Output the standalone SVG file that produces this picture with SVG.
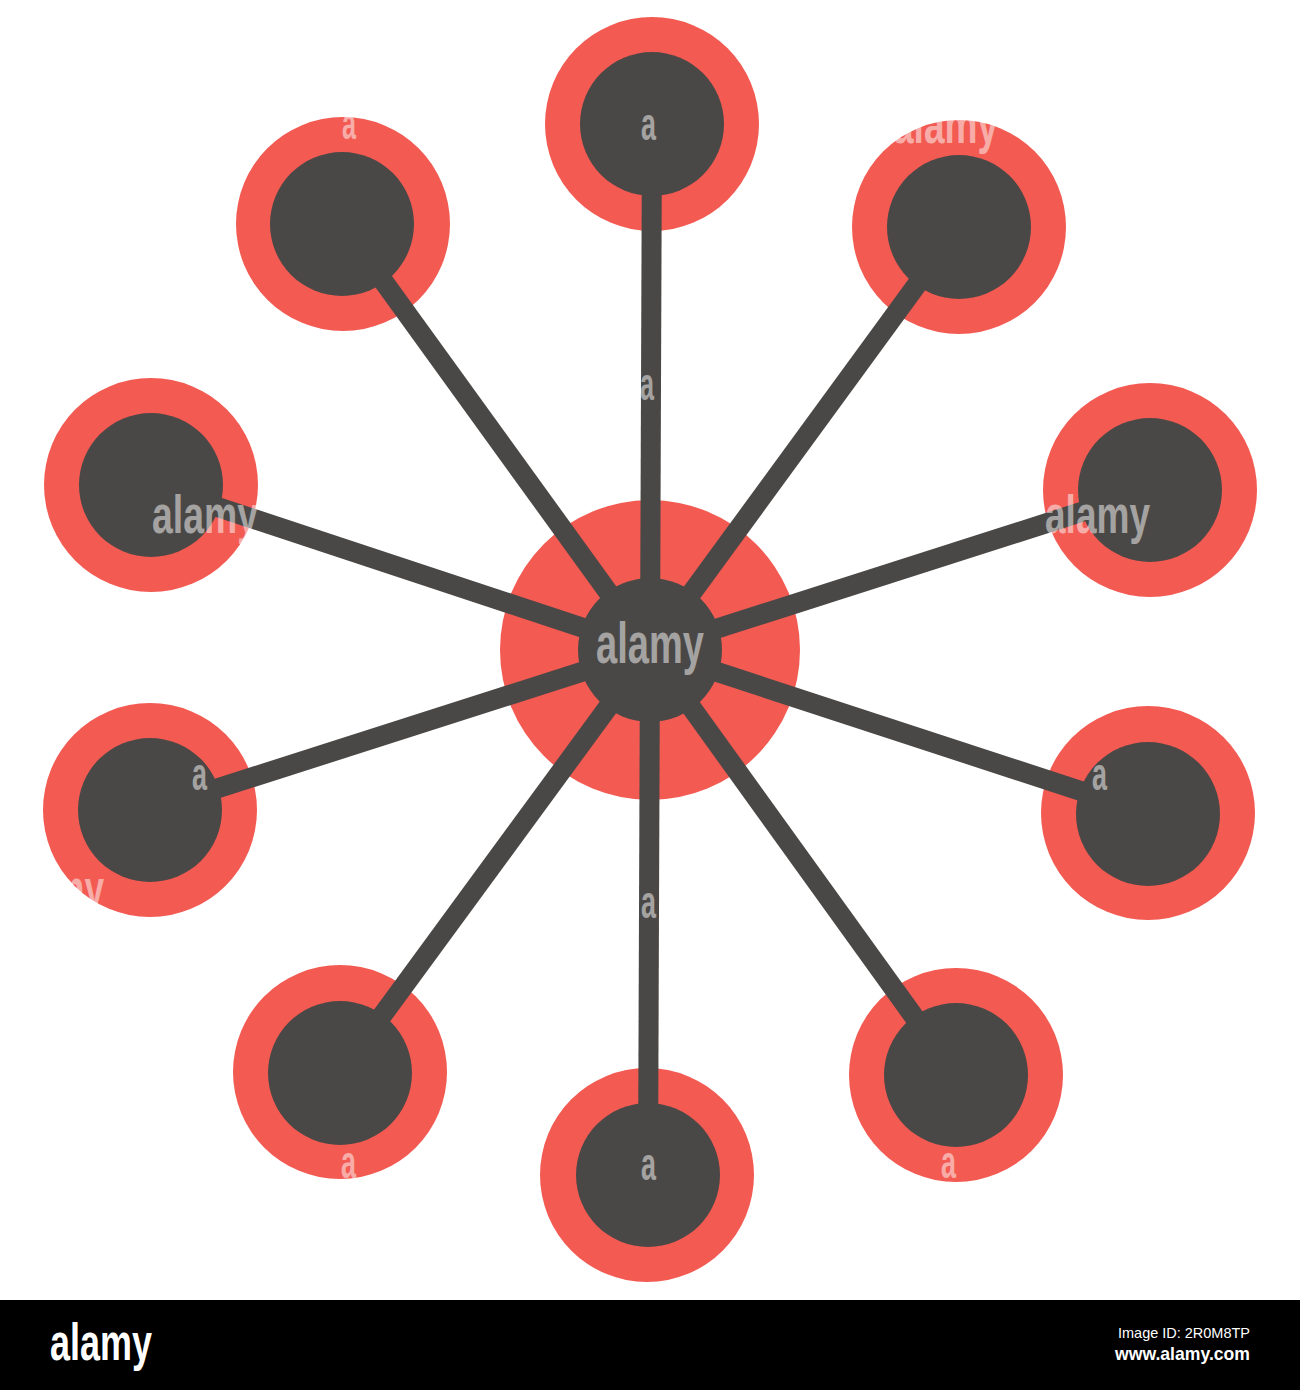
<svg xmlns="http://www.w3.org/2000/svg" width="1300" height="1390" viewBox="0 0 1300 1390">
<style>
.ring{fill:#F25A52}
.core{fill:#4A4846}
.edge{stroke:#4A4846;stroke-width:20;stroke-linecap:butt}
.wm{fill:#FFFFFF;fill-opacity:0.5;font-family:"Liberation Sans",Arial,sans-serif;font-weight:bold}
.bar{fill:#FFFFFF;font-family:"Liberation Sans",Arial,sans-serif}
</style>
<rect width="1300" height="1390" fill="#FFFFFF"/>
<g id="rings">
<circle class="ring" cx="650" cy="650" r="150"/>
<circle class="ring" cx="652" cy="124" r="107"/>
<circle class="ring" cx="959" cy="227" r="107"/>
<circle class="ring" cx="1150" cy="490" r="107"/>
<circle class="ring" cx="1148" cy="813" r="107"/>
<circle class="ring" cx="956" cy="1075" r="107"/>
<circle class="ring" cx="647" cy="1175" r="107"/>
<circle class="ring" cx="340" cy="1072" r="107"/>
<circle class="ring" cx="150" cy="810" r="107"/>
<circle class="ring" cx="151" cy="485" r="107"/>
<circle class="ring" cx="343" cy="224" r="107"/>
</g>
<g id="connectors">
<line class="edge" x1="650" y1="650" x2="652" y2="124"/>
<line class="edge" x1="650" y1="650" x2="959" y2="227"/>
<line class="edge" x1="650" y1="650" x2="1150" y2="490"/>
<line class="edge" x1="650" y1="650" x2="1148" y2="813"/>
<line class="edge" x1="650" y1="650" x2="956" y2="1075"/>
<line class="edge" x1="650" y1="650" x2="648" y2="1175"/>
<line class="edge" x1="650" y1="650" x2="340" y2="1073"/>
<line class="edge" x1="650" y1="650" x2="150" y2="810"/>
<line class="edge" x1="650" y1="650" x2="151" y2="485"/>
<line class="edge" x1="650" y1="650" x2="342" y2="224"/>
</g>
<g id="hub"><circle class="core" cx="650" cy="650" r="72"/></g>
<g id="node-top"><circle class="core" cx="652" cy="124" r="72"/></g>
<g id="node-top-right"><circle class="core" cx="959" cy="227" r="72"/></g>
<g id="node-right-upper"><circle class="core" cx="1150" cy="490" r="72"/></g>
<g id="node-right-lower"><circle class="core" cx="1148" cy="814" r="72"/></g>
<g id="node-bottom-right"><circle class="core" cx="956" cy="1075" r="72"/></g>
<g id="node-bottom"><circle class="core" cx="648" cy="1175" r="72"/></g>
<g id="node-bottom-left"><circle class="core" cx="340" cy="1073" r="72"/></g>
<g id="node-left-lower"><circle class="core" cx="150" cy="810" r="72"/></g>
<g id="node-left-upper"><circle class="core" cx="151" cy="485" r="72"/></g>
<g id="node-top-left"><circle class="core" cx="342" cy="224" r="72"/></g>
<g id="watermarks">
<text class="wm" x="596" y="663" font-size="58" textLength="108" lengthAdjust="spacingAndGlyphs">alamy</text>
<text class="wm" x="152" y="533" font-size="54" textLength="106" lengthAdjust="spacingAndGlyphs">alamy</text>
<text class="wm" x="1045" y="533" font-size="54" textLength="105" lengthAdjust="spacingAndGlyphs">alamy</text>
<text class="wm" x="893" y="143" font-size="54" textLength="105" lengthAdjust="spacingAndGlyphs">alamy</text>
<text class="wm" x="4" y="907" font-size="54" textLength="100" lengthAdjust="spacingAndGlyphs">alamy</text>
<text class="wm" x="641" y="140" font-size="46" textLength="15" lengthAdjust="spacingAndGlyphs">a</text>
<text class="wm" x="342" y="139" font-size="44" textLength="14" lengthAdjust="spacingAndGlyphs">a</text>
<text class="wm" x="640" y="400" font-size="46" textLength="14" lengthAdjust="spacingAndGlyphs">a</text>
<text class="wm" x="192" y="790" font-size="46" textLength="15" lengthAdjust="spacingAndGlyphs">a</text>
<text class="wm" x="1092" y="790" font-size="46" textLength="15" lengthAdjust="spacingAndGlyphs">a</text>
<text class="wm" x="641" y="918" font-size="46" textLength="15" lengthAdjust="spacingAndGlyphs">a</text>
<text class="wm" x="341" y="1178" font-size="46" textLength="15" lengthAdjust="spacingAndGlyphs">a</text>
<text class="wm" x="641" y="1180" font-size="46" textLength="15" lengthAdjust="spacingAndGlyphs">a</text>
<text class="wm" x="941" y="1178" font-size="46" textLength="15" lengthAdjust="spacingAndGlyphs">a</text>
</g>
<g id="footer">
<rect x="0" y="1300" width="1300" height="90" fill="#000000"/>
<text class="bar" x="50" y="1360" font-size="52" font-weight="bold" textLength="102" lengthAdjust="spacingAndGlyphs">alamy</text>
<text class="bar" x="1118" y="1338" font-size="15" textLength="132" lengthAdjust="spacingAndGlyphs">Image ID: 2R0M8TP</text>
<text class="bar" x="1115" y="1360" font-size="19" font-weight="bold" textLength="135" lengthAdjust="spacingAndGlyphs">www.alamy.com</text>
</g>
</svg>
